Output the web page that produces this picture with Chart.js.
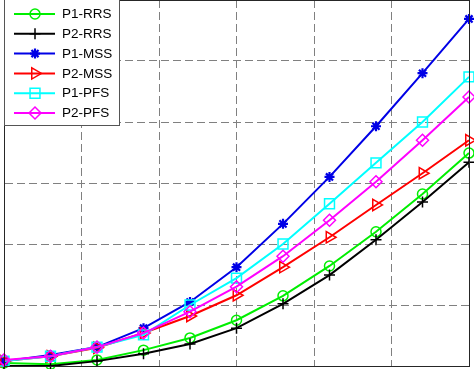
<!DOCTYPE html>
<html>
<head>
<meta charset="utf-8">
<script src="https://cdn.jsdelivr.net/npm/chart.js@4"></script>
<style>
  html, body { margin: 0; padding: 0; background: #fff; }
  #wrap { width: 474px; height: 369px; }
</style>
</head>
<body>
<div id="wrap"><canvas id="c" width="474" height="369"></canvas></div>
<script>
// x positions of the samples (axis has no tick labels in the source)
const xValues = [0, 3, 6, 9, 12, 15, 18, 21, 24, 27, 30];

const p1RRS = [0.05, 0.03, 0.10, 0.26, 0.46, 0.75, 1.15, 1.64, 2.20, 2.82, 3.49];
const p2RRS = [0.00, 0.00, 0.08, 0.20, 0.36, 0.62, 1.02, 1.49, 2.07, 2.69, 3.34];
const p1MSS = [0.08, 0.18, 0.31, 0.62, 1.05, 1.62, 2.33, 3.10, 3.93, 4.80, 5.69];
const p2MSS = [0.08, 0.16, 0.30, 0.54, 0.82, 1.16, 1.62, 2.11, 2.64, 3.16, 3.70];
const p1PFS = [0.08, 0.16, 0.31, 0.51, 1.00, 1.44, 2.00, 2.66, 3.33, 4.00, 4.74];
const p2PFS = [0.10, 0.16, 0.31, 0.54, 0.89, 1.30, 1.80, 2.39, 3.02, 3.70, 4.41];

const seriesNames = ['P1-RRS', 'P2-RRS', 'P1-MSS', 'P2-MSS', 'P1-PFS', 'P2-PFS'];
const seriesData = [p1RRS, p2RRS, p1MSS, p2MSS, p1PFS, p2PFS];
const seriesColors = ['#00ee00', '#000000', '#0000e6', '#ff0000', '#00ffff', '#ff00ff'];
const seriesMarkers = ['circle', 'cross', 'star', 'triangle', 'rect', 'rectRot'];
const markerRotation = [0, 0, 0, 90, 0, 0];
const markerRadius = [5, 5.5, 5, 6.5, 7, 6];

const datasets = seriesNames.map((name, i) => ({
    label: name,
    data: xValues.map((x, j) => ({ x: x, y: seriesData[i][j] })),
    borderColor: seriesColors[i],
    backgroundColor: seriesColors[i],
    borderWidth: 2,
    pointStyle: seriesMarkers[i],
    pointRotation: markerRotation[i],
    pointRadius: markerRadius[i],
    pointBorderWidth: i === 2 ? 2.2 : 1.5,
    pointBorderColor: seriesColors[i],
    pointBackgroundColor: 'rgba(0,0,0,0)',
    tension: 0,
    clip: false,
    order: seriesNames.length - i
}));

// box around the plot plus a matlab style legend in the upper left
const boxAndLegend = {
    id: 'boxAndLegend',
    afterDatasetsDraw(chart) {
        const ctx = chart.ctx;
        const a = chart.chartArea;
        ctx.save();
        ctx.setLineDash([]);
        ctx.strokeStyle = '#262626';
        ctx.lineWidth = 1;
        ctx.strokeRect(a.left + 0.5, a.top + 0.5, a.right - a.left, a.bottom - a.top);

        const lx = a.left + 0.5, ly = -1.5, lw = 115, lh = 127;
        ctx.fillStyle = '#ffffff';
        ctx.fillRect(lx, ly, lw, lh);
        ctx.strokeStyle = '#555555';
        ctx.strokeRect(lx, ly, lw, lh);

        ctx.font = '13.5px "Liberation Sans", Arial, sans-serif';
        ctx.textBaseline = 'middle';
        chart.data.datasets.forEach((ds, i) => {
            const y = 14 + i * 19.8;
            ctx.strokeStyle = ds.borderColor;
            ctx.lineWidth = 2;
            ctx.beginPath();
            ctx.moveTo(14, y);
            ctx.lineTo(55, y);
            ctx.stroke();
            ctx.lineWidth = ds.pointBorderWidth;
            ctx.fillStyle = 'rgba(0,0,0,0)';
            Chart.helpers.drawPoint(ctx, {
                pointStyle: ds.pointStyle,
                rotation: ds.pointRotation,
                radius: ds.pointRadius,
                borderWidth: ds.pointBorderWidth
            }, 35, y);
            ctx.fillStyle = '#000000';
            ctx.fillText(ds.label, 62, y + 0.5);
        });
        ctx.restore();
    }
};

const gridStyle = {
    color: '#808080',
    lineWidth: 1,
    drawTicks: false,
    borderDash: [8, 4]
};

new Chart(document.getElementById('c'), {
    type: 'line',
    data: { datasets: datasets },
    options: {
        responsive: false,
        animation: false,
        layout: { autoPadding: false, padding: { left: 4, top: 0, right: 5, bottom: 3 } },
        plugins: {
            legend: { display: false },
            tooltip: { enabled: false }
        },
        scales: {
            x: {
                type: 'linear',
                min: 0,
                max: 30,
                ticks: { display: false, stepSize: 5 },
                grid: gridStyle,
                border: { display: true, color: '#262626', dash: [8, 4] },
                afterFit: s => { s.height = 0; }
            },
            y: {
                type: 'linear',
                min: 0,
                max: 6,
                ticks: { display: false, stepSize: 1 },
                grid: gridStyle,
                border: { display: true, color: '#262626', dash: [8, 4] },
                afterFit: s => { s.width = 0; }
            }
        }
    },
    plugins: [boxAndLegend]
});
</script>
</body>
</html>
